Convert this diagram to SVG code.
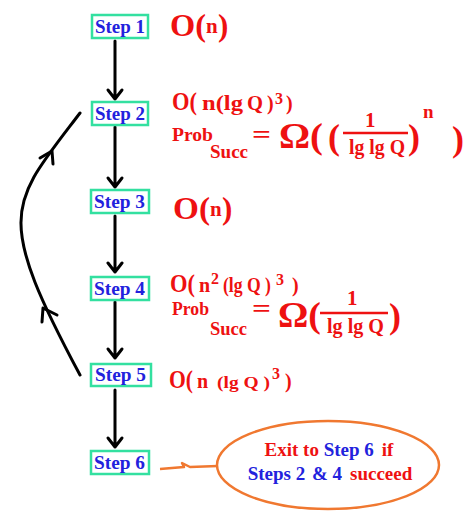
<svg xmlns="http://www.w3.org/2000/svg" width="474" height="530" viewBox="0 0 474 530">
<style>
.box{fill:#fff;stroke:#33E0A0;stroke-width:2.5}
.st{font-family:"Liberation Serif",serif;font-weight:bold;font-size:19px;fill:#2222DD}
.r{font-family:"Liberation Serif",serif;font-weight:bold;fill:#EE1111}
.b{fill:#2222DD}
.conn{fill:none;stroke:#000;stroke-width:3;stroke-linecap:round;stroke-linejoin:round}
.bar{stroke:#EE1111;stroke-width:2.5}
</style>
<rect width="474" height="530" fill="#fff"/>
<g id="connectors">
<path class="conn" d="M115,41 V99 M108,90 L115,99 L122,90"/>
<path class="conn" d="M115,127 V187 M108,178 L115,187 L122,178"/>
<path class="conn" d="M115,216 V272 M108,263 L115,272 L122,263"/>
<path class="conn" d="M115,302 V358 M108,349 L115,358 L122,349"/>
<path class="conn" d="M115,390 V447 M108,438 L115,447 L122,438"/>
<path class="conn" d="M80,375 C-7,212 10,205 80,113"/>
<path class="conn" d="M40,158 L52,151 L53,164"/>
<path class="conn" d="M42,322 L43,308 L57,315"/>
<path d="M160,469 L184,467 L182,463 L190,467 L218,466" fill="none" stroke="#F07830" stroke-width="2.5" stroke-linejoin="round"/>
</g>
<g id="step1"><rect class="box" x="92" y="15" width="56" height="23"/><text class="st" x="95" y="33" textLength="50" lengthAdjust="spacingAndGlyphs">Step 1</text></g>
<g id="step2"><rect class="box" x="92" y="102" width="56" height="23"/><text class="st" x="95" y="120" textLength="50" lengthAdjust="spacingAndGlyphs">Step 2</text></g>
<g id="step3"><rect class="box" x="91" y="190" width="58" height="23"/><text class="st" x="94" y="208" textLength="51" lengthAdjust="spacingAndGlyphs">Step 3</text></g>
<g id="step4"><rect class="box" x="91" y="277" width="58" height="23"/><text class="st" x="94" y="295" textLength="51" lengthAdjust="spacingAndGlyphs">Step 4</text></g>
<g id="step5"><rect class="box" x="91" y="364" width="60" height="22"/><text class="st" x="95" y="381" textLength="51" lengthAdjust="spacingAndGlyphs">Step 5</text></g>
<g id="step6"><rect class="box" x="91" y="451" width="58" height="23"/><text class="st" x="94" y="469" textLength="51" lengthAdjust="spacingAndGlyphs">Step 6</text></g>
<g id="cost1">
<text class="r" x="170" y="36" font-size="31" textLength="36" lengthAdjust="spacingAndGlyphs">O(</text>
<text class="r" x="206" y="33" font-size="21">n</text>
<text class="r" x="218" y="36" font-size="31">)</text>
</g>
<g id="cost2">
<text class="r" x="172" y="110" font-size="25" textLength="25" lengthAdjust="spacingAndGlyphs">O(</text>
<text class="r" x="202" y="110" font-size="20" textLength="41" lengthAdjust="spacingAndGlyphs">n(lg</text>
<text class="r" x="247" y="110" font-size="20" textLength="16" lengthAdjust="spacingAndGlyphs">Q</text>
<text class="r" x="267" y="110" font-size="20">)</text>
<text class="r" x="275" y="104" font-size="16">3</text>
<text class="r" x="286" y="110" font-size="20">)</text>
<text class="r" x="172" y="141" font-size="19" textLength="41" lengthAdjust="spacingAndGlyphs">Prob</text>
<text class="r" x="210" y="158" font-size="19" textLength="38" lengthAdjust="spacingAndGlyphs">Succ</text>
<text class="r" x="252" y="143" font-size="26" textLength="19" lengthAdjust="spacingAndGlyphs">=</text>
<text class="r" x="279" y="148" font-size="36" textLength="44" lengthAdjust="spacingAndGlyphs">Ω(</text>
<text class="r" x="328" y="149" font-size="36">(</text>
<text class="r" x="365" y="127" font-size="21">1</text>
<line class="bar" x1="343" y1="133" x2="408" y2="133"/>
<text class="r" x="349" y="154" font-size="20" textLength="56" lengthAdjust="spacingAndGlyphs">lg lg Q</text>
<text class="r" x="408" y="149" font-size="36">)</text>
<text class="r" x="423" y="118" font-size="19">n</text>
<text class="r" x="452" y="151" font-size="36">)</text>
</g>
<g id="cost3">
<text class="r" x="173" y="219" font-size="31" textLength="37" lengthAdjust="spacingAndGlyphs">O(</text>
<text class="r" x="210" y="216" font-size="21">n</text>
<text class="r" x="222" y="219" font-size="31">)</text>
</g>
<g id="cost4">
<text class="r" x="170" y="292" font-size="25" textLength="25" lengthAdjust="spacingAndGlyphs">O(</text>
<text class="r" x="199" y="292" font-size="20">n</text>
<text class="r" x="211" y="284" font-size="16">2</text>
<text class="r" x="223" y="292" font-size="20" textLength="48" lengthAdjust="spacingAndGlyphs">(lg Q )</text>
<text class="r" x="276" y="285" font-size="16">3</text>
<text class="r" x="292" y="292" font-size="20">)</text>
<text class="r" x="172" y="315" font-size="19" textLength="37" lengthAdjust="spacingAndGlyphs">Prob</text>
<text class="r" x="210" y="335" font-size="19" textLength="37" lengthAdjust="spacingAndGlyphs">Succ</text>
<text class="r" x="252" y="317" font-size="26" textLength="19" lengthAdjust="spacingAndGlyphs">=</text>
<text class="r" x="278" y="327" font-size="36" textLength="43" lengthAdjust="spacingAndGlyphs">Ω(</text>
<text class="r" x="347" y="305" font-size="21">1</text>
<line class="bar" x1="320" y1="313" x2="388" y2="313"/>
<text class="r" x="327" y="333" font-size="20" textLength="57" lengthAdjust="spacingAndGlyphs">lg lg Q</text>
<text class="r" x="389" y="328" font-size="36">)</text>
</g>
<g id="cost5">
<text class="r" x="169" y="388" font-size="25" textLength="24" lengthAdjust="spacingAndGlyphs">O(</text>
<text class="r" x="197" y="388" font-size="20">n</text>
<text class="r" x="217" y="388" font-size="17" textLength="53" lengthAdjust="spacingAndGlyphs">(lg Q )</text>
<text class="r" x="272" y="379" font-size="16">3</text>
<text class="r" x="285" y="388" font-size="20">)</text>
</g>
<g id="note">
<ellipse cx="328" cy="465" rx="111" ry="44" fill="#fff" stroke="#F07830" stroke-width="2.5"/>
<text class="r" x="329" y="456" font-size="19" text-anchor="middle">Exit to <tspan class="b">Step 6</tspan><tspan dx="8">if</tspan></text>
<text class="r" x="330" y="480" font-size="19" text-anchor="middle"><tspan class="b">Steps 2 <tspan dx="2">&amp;</tspan> 4</tspan><tspan dx="8">succeed</tspan></text>
</g>
</svg>
